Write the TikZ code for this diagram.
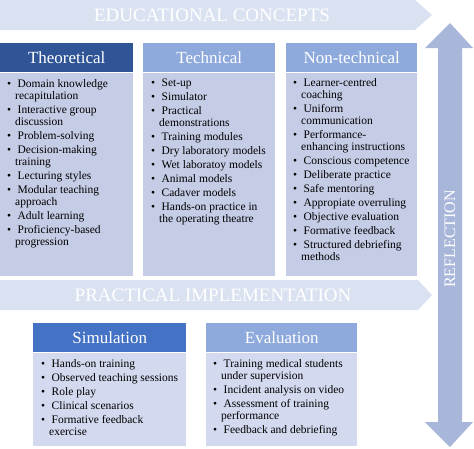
\documentclass[tikz,border=0pt]{standalone}
\usepackage{fontspec}
\setmainfont{Liberation Serif}
\usetikzlibrary{positioning}
\definecolor{bannerfill}{HTML}{DAE1F0}
\definecolor{headdark}{HTML}{2F5597}
\definecolor{headmid}{HTML}{4472C4}
\definecolor{headlight}{HTML}{8EA9DB}
\definecolor{bodyfill}{HTML}{C5CCE6}
\definecolor{bodylight}{HTML}{D3D9EE}
\definecolor{reflfill}{HTML}{A8B6D9}

\newcommand{\itm}{\makebox[4pt][l]{\textbullet}\hspace{6.5pt}}
\newcommand{\cont}{\hspace{8pt}}

\begin{document}
\begin{tikzpicture}[
  x=1pt, y=-1pt,
  font=\fontsize{11.5}{12}\selectfont,
  banner/.style={fill=bannerfill, draw=none},
  bannertext/.style={text=white, font=\fontsize{19}{19}\selectfont},
  head/.style={anchor=north west, inner sep=0pt, text=white, minimum height=29pt,
               font=\fontsize{17}{17}\selectfont},
  body/.style={anchor=north west, inner sep=0pt, fill=bodyfill},
  list/.style={anchor=north west, inner sep=0pt, align=left},
]
\useasboundingbox (0,0) rectangle (474,448);

% ---------- banners ----------
\fill[banner] (0,0) -- (415,0) -- (432,15) -- (415,30) -- (0,30) -- cycle;
\node[bannertext] (eduText) at (212,15) {EDUCATIONAL CONCEPTS};

\fill[banner] (0,280) -- (418,280) -- (432,295) -- (418,310) -- (0,310) -- cycle;
\node[bannertext] (pracText) at (213,295) {PRACTICAL IMPLEMENTATION};

% ---------- reflection arrow ----------
\fill[reflfill] (450,23) -- (473,48) -- (462,48) -- (462,422) -- (473,422)
  -- (450,447) -- (425,422) -- (438,422) -- (438,48) -- (425,48) -- cycle;
\node[rotate=90, text=white, font=\fontsize{16}{16}\selectfont] (reflText)
  at (450,239) {REFLECTION};

% ---------- theoretical ----------
\node[head, fill=headdark, minimum width=133pt] (theoHead) at (0,43) {Theoretical};
\node[body, minimum width=133pt, minimum height=203pt] (theoBody) at (theoHead.south west) {};
\node[list] (theoList) at ([xshift=7pt, yshift=-7pt]theoBody.north west)
  {\itm Domain knowledge\\ \cont recapitulation\\[2pt]
   \itm Interactive group\\ \cont discussion\\[2pt]
   \itm Problem-solving\\[2pt]
   \itm Decision-making\\ \cont training\\[2pt]
   \itm Lecturing styles\\[2pt]
   \itm Modular teaching\\ \cont approach\\[2pt]
   \itm Adult learning\\[2pt]
   \itm Proficiency-based\\ \cont progression};

% ---------- technical ----------
\node[head, fill=headlight, minimum width=132pt] (techHead) at (143,43) {Technical};
\node[body, minimum width=132pt, minimum height=203pt] (techBody) at (techHead.south west) {};
\node[list] (techList) at ([xshift=8pt, yshift=-6pt]techBody.north west)
  {\itm Set-up\\[2pt]
   \itm Simulator\\[2pt]
   \itm Practical\\ \cont demonstrations\\[2pt]
   \itm Training modules\\[2pt]
   \itm Dry laboratory models\\[2pt]
   \itm Wet laboratoy models\\[2pt]
   \itm Animal models\\[2pt]
   \itm Cadaver models\\[2pt]
   \itm Hands-on practice in\\ \cont the operating theatre};

% ---------- non-technical ----------
\node[head, fill=headlight, minimum width=131pt] (nonHead) at (286,43) {Non-technical};
\node[body, minimum width=131pt, minimum height=203pt] (nonBody) at (nonHead.south west) {};
\node[list] (nonList) at ([xshift=7pt, yshift=-6pt]nonBody.north west)
  {\itm Learner-centred\\ \cont coaching\\[2pt]
   \itm Uniform\\ \cont communication\\[2pt]
   \itm Performance-\\ \cont enhancing instructions\\[2pt]
   \itm Conscious competence\\[2pt]
   \itm Deliberate practice\\[2pt]
   \itm Safe mentoring\\[2pt]
   \itm Appropiate overruling\\[2pt]
   \itm Objective evaluation\\[2pt]
   \itm Formative feedback\\[2pt]
   \itm Structured debriefing\\ \cont methods};

% ---------- simulation ----------
\node[head, fill=headmid, minimum width=153pt] (simHead) at (33,323) {Simulation};
\node[body, fill=bodylight, minimum width=153pt, minimum height=93pt] (simBody) at (simHead.south west) {};
\node[list] (simList) at ([xshift=8pt, yshift=-7pt]simBody.north west)
  {\itm Hands-on training\\[2pt]
   \itm Observed teaching sessions\\[2pt]
   \itm Role play\\[2pt]
   \itm Clinical scenarios\\[2pt]
   \itm Formative feedback\\ \cont exercise};

% ---------- evaluation ----------
\node[head, fill=headlight, minimum width=151pt] (evalHead) at (206,323) {Evaluation};
\node[body, fill=bodylight, minimum width=151pt, minimum height=93pt] (evalBody) at (evalHead.south west) {};
\node[list] (evalList) at ([xshift=7pt, yshift=-7pt]evalBody.north west)
  {\itm Training medical students\\ \cont under supervision\\[2pt]
   \itm Incident analysis on video\\[2pt]
   \itm Assessment of training\\ \cont performance\\[2pt]
   \itm Feedback and debriefing};

\end{tikzpicture}
\end{document}
